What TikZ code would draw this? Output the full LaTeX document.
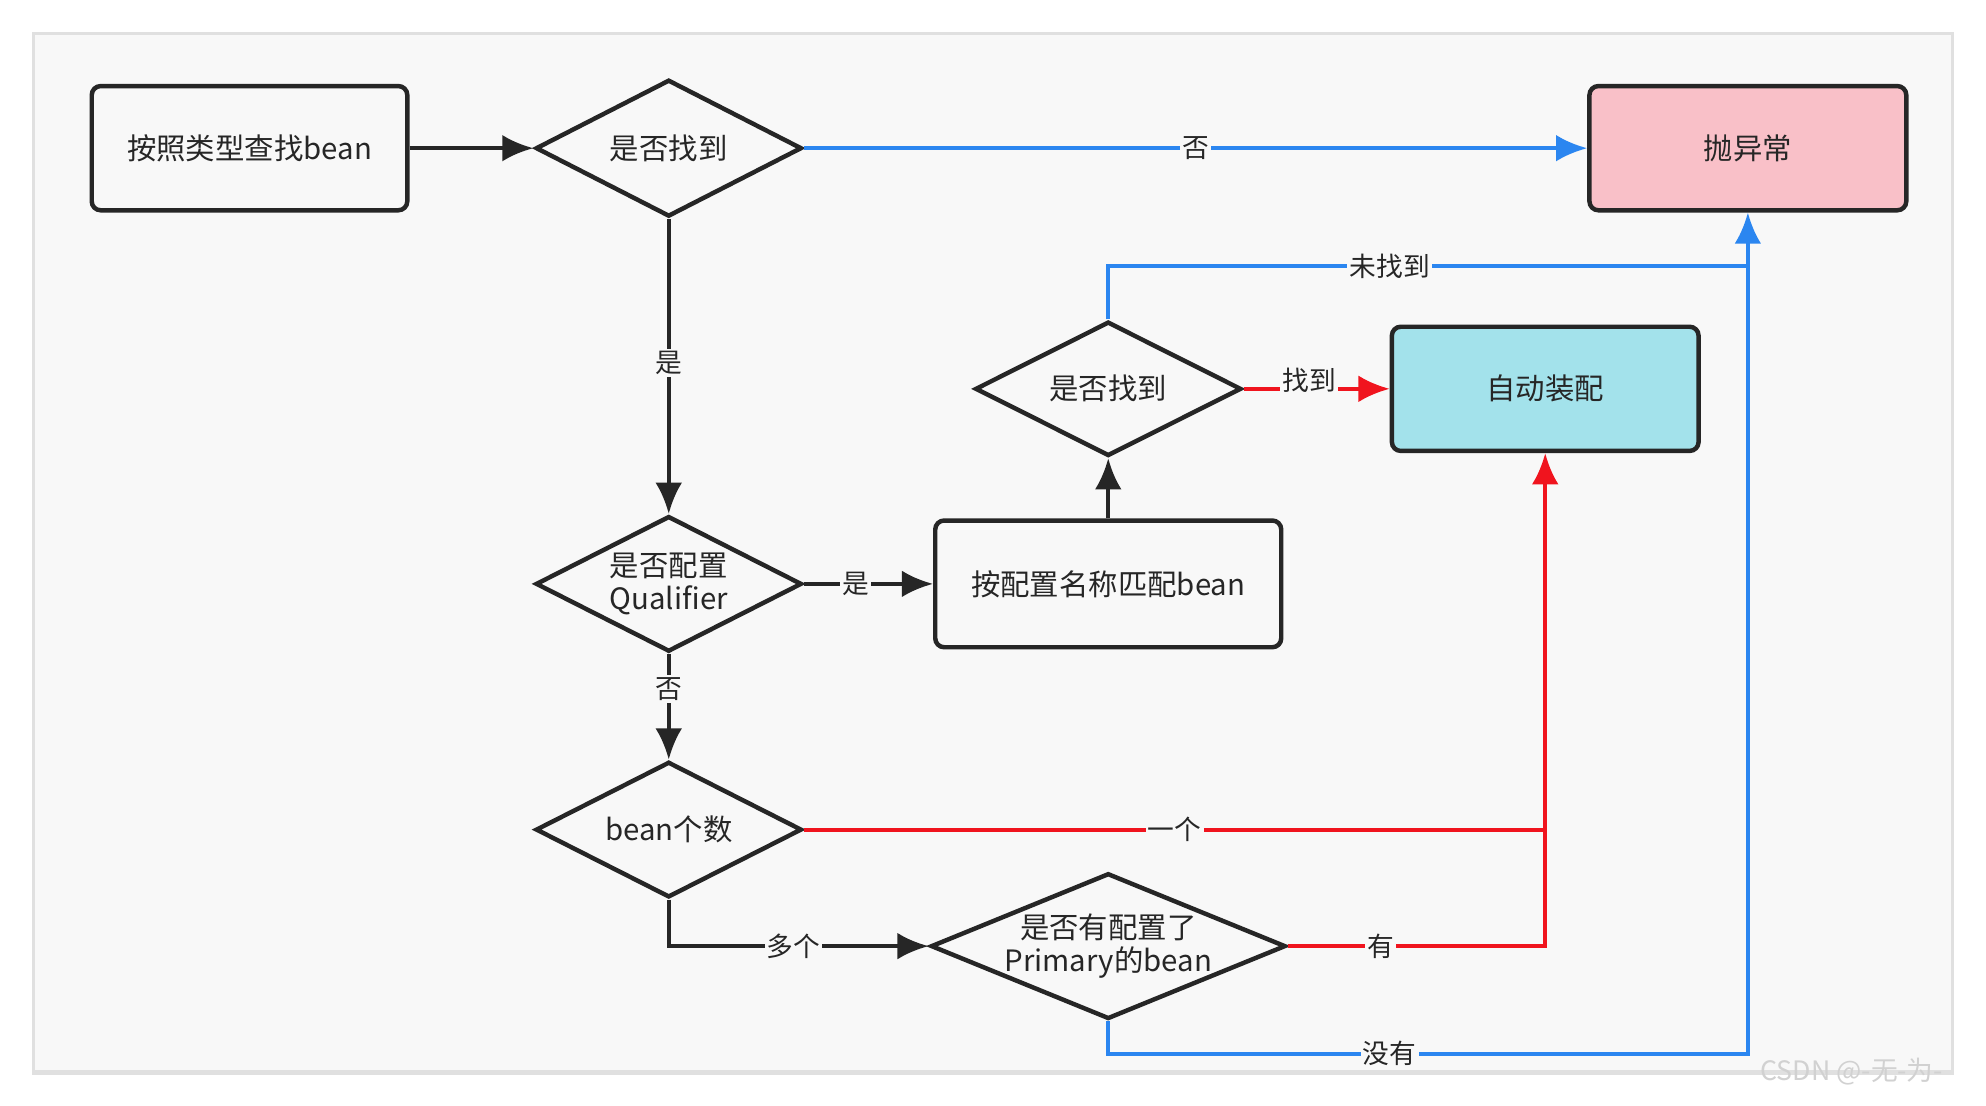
\documentclass[tikz,border=0pt]{standalone}
\usepackage{fontspec}
\setmainfont{Noto Sans CJK SC}
\usetikzlibrary{shapes.geometric,arrows.meta}
\definecolor{panel}{HTML}{F8F8F8}
\definecolor{pinkbox}{HTML}{F9C0C8}
\definecolor{cyanbox}{HTML}{A3E2EB}
\definecolor{lineblue}{HTML}{2B86F0}
\definecolor{linered}{HTML}{F0141E}
\definecolor{ink}{HTML}{262626}
\tikzset{
  task/.style={draw=ink, line width=1pt, rounded corners=2pt, inner sep=0pt, align=center,
    font=\fontsize{6.6}{7.6}\selectfont, text=ink},
  choice/.style={diamond, draw=ink, line width=1pt, inner sep=0pt,
    label={[align=center, font=\fontsize{6.6}{7.6}\selectfont, text=ink]center:#1}},
  flow/.style={line width=0.9pt, -{Latex[length=7pt,width=6pt]}},
  tag/.style={fill=panel, inner sep=0.5pt, font=\fontsize{6}{7}\selectfont, text=ink}
}
\begin{document}
\begin{tikzpicture}[x=0.01cm,y=-0.01cm]
\useasboundingbox (0,0) rectangle (1568,873);
% background panel
\fill[white] (0,0) rectangle (1568,873);
\fill[black!12] (25,25) rectangle (1543,849);
\fill[panel] (28,28) rectangle (1540,845);

% Boxes
\node[task, minimum width=2.49cm, minimum height=0.98cm] (find) at (197,117) {按照类型查找bean};
\node[task, fill=pinkbox, minimum width=2.5cm, minimum height=0.98cm] (throw) at (1380,117) {抛异常};
\node[task, fill=cyanbox, minimum width=2.42cm, minimum height=0.98cm] (wire) at (1220,307) {自动装配};
\node[task, minimum width=2.73cm, minimum height=1cm] (byname) at (875,461) {按配置名称匹配bean};

% Decisions
\node[choice={是否找到}, minimum width=2.1cm, minimum height=1.08cm] (found) at (528,117) {};
\node[choice={是否找到}, minimum width=2.1cm, minimum height=1.06cm] (found2) at (875,307) {};
\node[choice={是否配置\\Qualifier}, minimum width=2.1cm, minimum height=1.07cm] (qual) at (528,461) {};
\node[choice={bean个数}, minimum width=2.1cm, minimum height=1.07cm] (count) at (528,655) {};
\node[choice={是否有配置了\\Primary的bean}, minimum width=2.8cm, minimum height=1.15cm] (primary) at (875,747) {};

% Junctions
\coordinate (up) at (1380,210);
\coordinate (low) at (1380,832);
\coordinate (joint) at (1220,655);

% Black connectors
\draw[flow, ink] (find) -- (found);
\draw[flow, ink] (found) -- node[tag, pos=0.49] {是} (qual);
\draw[flow, ink] (qual) -- node[tag, pos=0.4] {是} (byname);
\draw[flow, ink] (qual) -- node[tag, pos=0.33] {否} (count);
\draw[flow, ink] (byname) -- (found2);
\draw[flow, ink] (count.south) |- node[tag, pos=0.74] {多个} (primary);

% Blue connectors
\draw[flow, lineblue] (found) -- node[tag, pos=0.5] {否} (throw);
\draw[line width=0.9pt, lineblue] (found2.north) |- node[tag, pos=0.72] {未找到} (up);
\draw[flow, lineblue] (primary.south) |- node[tag, pos=0.72] {没有} (low) -- (throw.south);

% Red connectors
\draw[flow, linered] (found2) -- node[tag, pos=0.45, yshift=2pt] {找到} (wire);
\draw[line width=0.9pt, linered] (count) -- node[tag, pos=0.5] {一个} (joint);
\draw[flow, linered] (primary.east) -| node[tag, pos=0.18] {有} (wire.south);

% Watermark
\node[text=black!18, font=\fontsize{6}{7}\selectfont] (mark) at (1462,846) {CSDN @-无-为-};
\end{tikzpicture}
\end{document}
